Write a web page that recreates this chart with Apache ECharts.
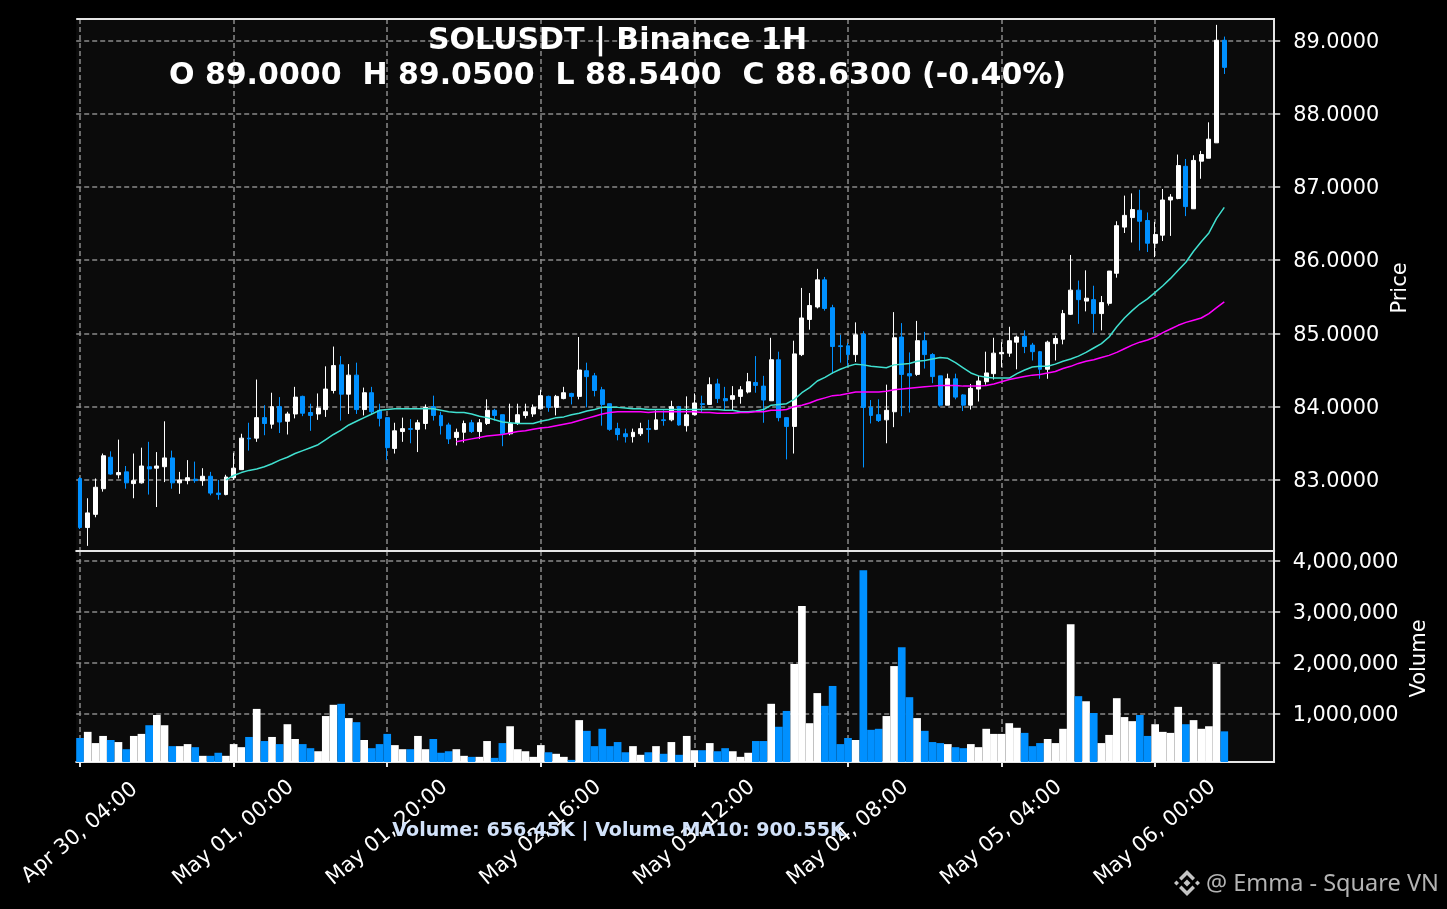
<!DOCTYPE html>
<html><head><meta charset="utf-8">
<style>html,body{margin:0;padding:0;background:#000}#c{width:1447px;height:909px}</style>
<script src="https://cdn.jsdelivr.net/npm/echarts@6/dist/echarts.min.js"></script>
</head><body><div id="c"></div>
<script>
const opens=[83.02,82.35,82.53,82.88,83.31,83.07,83.11,82.95,82.96,83.18,83.16,83.18,83.30,82.96,82.99,83.01,82.99,83.05,82.82,82.80,
83.03,83.14,83.57,83.57,83.85,83.76,84.00,83.80,83.90,84.14,83.92,83.90,83.96,84.22,84.57,84.17,84.43,83.96,84.19,83.95,
83.85,83.43,83.66,83.70,83.69,83.77,84.00,83.88,83.75,83.58,83.65,83.78,83.66,83.77,83.95,83.89,83.63,83.77,83.88,83.90,
83.97,84.14,83.99,84.11,84.18,84.14,84.49,84.42,84.23,84.04,83.70,83.63,83.59,83.63,83.70,83.69,83.82,83.82,84.00,83.74,
83.89,84.04,84.03,84.31,84.11,84.10,84.14,84.20,84.33,84.28,84.08,84.64,83.85,83.73,84.71,85.19,85.36,85.73,85.35,84.83,
84.83,84.71,84.99,83.99,83.89,83.82,83.93,84.95,84.45,84.44,84.90,84.71,84.42,84.02,84.38,84.16,84.02,84.24,84.34,84.45,
84.72,84.73,84.88,84.96,84.84,84.75,84.51,84.86,84.92,85.26,85.59,85.44,85.46,85.27,85.41,85.82,86.45,86.58,86.68,86.54,
86.23,86.34,86.82,86.84,87.28,86.70,87.35,87.39,87.60,89.00];
const closes=[82.35,82.55,82.90,83.33,83.08,83.10,82.96,82.99,83.19,83.15,83.19,83.30,82.96,83.00,83.03,82.99,83.05,82.82,82.80,83.04,
83.16,83.57,83.56,83.85,83.77,84.00,83.79,83.90,84.13,83.91,83.88,83.98,84.24,84.56,84.17,84.43,83.96,84.19,83.93,83.84,
83.44,83.67,83.70,83.69,83.78,83.99,83.88,83.74,83.56,83.65,83.77,83.66,83.78,83.95,83.88,83.63,83.77,83.89,83.93,83.99,
84.15,83.99,84.14,84.19,84.14,84.50,84.41,84.22,84.03,83.69,83.62,83.59,83.65,83.70,83.69,83.82,83.81,84.00,83.75,83.89,
84.05,84.03,84.30,84.11,84.08,84.15,84.23,84.34,84.29,84.09,84.64,83.85,83.73,84.72,85.21,85.38,85.73,85.34,84.82,84.82,
84.71,84.98,83.99,83.88,83.81,83.95,84.94,84.44,84.42,84.90,84.71,84.41,84.02,84.38,84.13,84.02,84.25,84.35,84.46,84.73,
84.74,84.90,84.95,84.82,84.75,84.51,84.88,84.93,85.27,85.59,85.46,85.48,85.27,85.42,85.85,86.47,86.61,86.69,86.53,86.23,
86.35,86.82,86.86,87.29,86.73,87.36,87.44,87.65,89.00,88.63];
const highs=[83.04,82.75,83.02,83.36,83.39,83.55,83.19,83.36,83.44,83.52,83.38,83.80,83.40,83.11,83.27,83.25,83.16,83.11,83.00,83.07,
83.37,83.63,83.78,84.37,84.02,84.19,84.13,83.93,84.27,84.15,84.04,84.18,84.55,84.82,84.69,84.58,84.60,84.26,84.27,84.04,
83.86,83.78,83.85,83.83,83.82,84.03,84.15,83.93,83.78,83.70,83.81,83.82,83.83,84.10,83.97,83.89,84.04,84.04,84.04,84.03,
84.23,84.15,84.16,84.27,84.19,84.95,84.60,84.46,84.27,84.04,83.78,83.70,83.70,83.78,83.82,83.95,83.95,84.08,84.01,84.14,
84.18,84.15,84.40,84.38,84.27,84.28,84.28,84.46,84.69,84.42,84.94,84.75,83.85,84.90,85.62,85.55,85.88,85.77,85.39,84.98,
84.87,85.15,85.03,84.09,84.10,84.30,85.29,85.14,84.74,85.17,85.02,84.73,84.42,84.45,84.45,84.17,84.31,84.42,84.75,84.94,
84.88,85.09,84.97,85.04,84.87,84.76,84.90,84.97,85.32,86.07,85.72,85.86,85.65,85.51,85.85,86.53,86.88,86.91,86.96,86.65,
86.52,86.97,86.90,87.44,87.38,87.43,87.49,87.88,89.21,89.05];
const lows=[82.33,82.10,82.49,82.84,83.07,83.02,82.88,82.75,82.95,82.80,82.63,82.97,82.88,82.81,82.94,82.96,82.92,82.79,82.73,82.79,
83.00,83.14,83.40,83.52,83.61,83.70,83.64,83.62,83.84,83.87,83.67,83.82,83.86,84.18,83.81,83.90,83.90,83.88,83.90,83.73,
83.27,83.36,83.52,83.50,83.38,83.69,83.81,83.62,83.49,83.47,83.51,83.64,83.56,83.75,83.81,83.46,83.61,83.75,83.84,83.86,
83.96,83.93,83.88,84.10,84.03,84.10,83.99,84.14,83.74,83.67,83.54,83.51,83.51,83.60,83.51,83.68,83.74,83.80,83.74,83.66,
83.88,83.92,84.03,84.05,83.95,83.95,84.04,84.18,84.19,83.78,84.08,83.80,83.28,83.36,84.69,85.05,85.34,85.31,84.45,84.60,
84.56,84.61,83.17,83.77,83.79,83.50,83.72,83.87,83.92,84.42,84.52,84.32,84.00,84.02,84.10,83.94,83.96,84.07,84.30,84.37,
84.54,84.68,84.51,84.73,84.63,84.38,84.38,84.63,84.85,85.25,85.13,85.30,85.01,85.04,85.38,85.76,86.37,86.24,86.13,86.11,
86.04,86.26,86.33,86.83,86.60,86.70,87.11,87.39,87.60,88.54];
const volumeMillions=[0.53,0.65,0.43,0.57,0.49,0.45,0.31,0.57,0.61,0.78,0.98,0.78,0.37,0.37,0.41,0.35,0.18,0.18,0.24,0.18,
0.41,0.35,0.55,1.10,0.47,0.55,0.41,0.80,0.51,0.41,0.33,0.27,0.96,1.18,1.20,0.92,0.84,0.49,0.33,0.41,
0.61,0.39,0.31,0.31,0.57,0.31,0.51,0.24,0.27,0.31,0.18,0.16,0.16,0.47,0.14,0.43,0.76,0.31,0.27,0.16,
0.39,0.25,0.22,0.16,0.10,0.88,0.67,0.37,0.71,0.37,0.45,0.25,0.37,0.20,0.25,0.37,0.22,0.45,0.20,0.57,
0.29,0.29,0.43,0.27,0.33,0.27,0.16,0.24,0.47,0.47,1.20,0.75,1.06,1.98,3.12,0.82,1.41,1.16,1.55,0.41,
0.53,0.49,3.82,0.69,0.71,0.96,1.94,2.31,1.33,0.92,0.67,0.45,0.43,0.41,0.35,0.33,0.41,0.35,0.71,0.61,
0.61,0.82,0.73,0.63,0.37,0.43,0.51,0.43,0.71,2.76,1.35,1.25,1.02,0.43,0.59,1.31,0.94,0.86,0.98,0.57,
0.80,0.65,0.63,1.14,0.80,0.88,0.71,0.76,1.98,0.66];
const ma20Values=[83.00,83.06,83.10,83.13,83.15,83.18,83.22,83.27,83.31,83.36,83.40,83.44,83.48,83.55,83.62,83.68,83.75,83.80,83.85,
83.90,83.95,83.96,83.97,83.97,83.97,83.97,83.97,83.97,83.95,83.93,83.92,83.92,83.90,83.87,83.85,83.82,83.79,83.78,83.77,83.77,
83.77,83.80,83.82,83.85,83.86,83.89,83.91,83.94,83.96,83.99,83.99,83.99,83.98,83.97,83.97,83.96,83.96,83.96,83.96,83.96,83.96,
83.96,83.96,83.96,83.96,83.95,83.95,83.93,83.93,83.94,83.96,84.02,84.03,84.04,84.10,84.19,84.26,84.35,84.40,84.46,84.51,84.55,84.58,
84.57,84.55,84.54,84.53,84.57,84.58,84.59,84.62,84.63,84.65,84.67,84.66,84.60,84.53,84.46,84.42,84.40,84.39,84.39,84.39,84.45,
84.50,84.54,84.55,84.55,84.58,84.62,84.65,84.69,84.74,84.80,84.86,84.95,85.09,85.21,85.31,85.40,85.47,85.56,85.65,85.75,85.86,
85.97,86.12,86.25,86.37,86.57,86.72];
const ma50Values=[83.52,83.54,83.56,83.58,83.60,83.61,83.62,83.64,83.66,83.67,83.69,83.71,83.72,83.74,83.76,83.78,83.81,83.84,83.87,
83.90,83.92,83.93,83.93,83.93,83.93,83.92,83.93,83.93,83.93,83.93,83.93,83.93,83.92,83.92,83.91,83.91,83.91,83.92,83.92,83.93,
83.93,83.95,83.95,83.96,84.00,84.02,84.05,84.09,84.12,84.15,84.16,84.18,84.20,84.20,84.20,84.20,84.21,84.23,84.24,84.25,84.26,
84.27,84.28,84.29,84.29,84.29,84.28,84.28,84.28,84.29,84.31,84.34,84.37,84.39,84.41,84.43,84.44,84.46,84.48,84.52,84.55,84.59,
84.62,84.64,84.67,84.70,84.74,84.79,84.84,84.88,84.91,84.95,85.01,85.06,85.11,85.15,85.18,85.21,85.27,85.35,85.43];
const priceTicks=[83,84,85,86,87,88,89];
const volumeTicks=[1,2,3,4];
const timeLabels=[];
(function(){const M=['Jan','Feb','Mar','Apr','May'];const p=n=>String(n).padStart(2,'0');
  for(let i=0;i<156;i++){const d=new Date(Date.UTC(2026,3,30,4+i));
    timeLabels.push(M[d.getUTCMonth()]+' '+p(d.getUTCDate())+', '+p(d.getUTCHours())+':00');}})();
const titleText='SOLUSDT | Binance 1H\nO 89.0000  H 89.0500  L 88.5400  C 88.6300 (-0.40%)';
const volumeText='Volume: 656.45K | Volume MA10: 900.55K';
const watermark='@ Emma - Square VN';

const UP='#ffffff',DOWN='#0090ff',GRID='#8a8a8a',SPINE='#e6e6e6',FF='"DejaVu Sans"',LOGO='#c4c4c4';
const candles=opens.map((o,i)=>[o,closes[i],lows[i],highs[i]]);
const vols=volumeMillions.map((v,i)=>({value:v,itemStyle:{color:closes[i]>=opens[i]?UP:DOWN}}));
const pad=(n,arr)=>new Array(n).fill(null).concat(arr);
const split={show:true,alignWithLabel:true,interval:19,lineStyle:{color:GRID,type:[5,3],width:1.5}};
const ysplit={show:true,lineStyle:{color:GRID,type:[5,3],width:1.5}};
const logoParts=[
  [[0,-13],[8,-5],[5.5,-2.5],[0,-8],[-5.5,-2.5],[-8,-5]],
  [[0,13],[8,5],[5.5,2.5],[0,8],[-5.5,2.5],[-8,5]],
  [[-13,0],[-10.5,-2.5],[-8,0],[-10.5,2.5]],
  [[13,0],[10.5,-2.5],[8,0],[10.5,2.5]],
  [[0,-3.5],[3.5,0],[0,3.5],[-3.5,0]]
];
const chart=echarts.init(document.getElementById('c'),null,{renderer:'canvas'});
chart.setOption({
  animation:false,backgroundColor:'#000',
  title:[
    {text:titleText,left:617.5,top:24,padding:0,textAlign:'center',textStyle:{color:'#fff',fontFamily:FF,fontWeight:'bold',fontSize:30,lineHeight:35},z:20},
    {text:volumeText,left:618.5,top:822,padding:0,textAlign:'center',textStyle:{color:'#d2e2fa',fontFamily:FF,fontWeight:'bold',fontSize:19.1},z:20},
    {text:watermark,left:1206,top:872,padding:0,textStyle:{color:'#b4b4b4',fontFamily:'"Noto Sans"',fontWeight:'normal',fontSize:23.5},z:20}
  ],
  grid:[
    {left:76.2,width:1198,top:19,height:532,show:true,backgroundColor:'#0b0b0b',borderWidth:0},
    {left:76.2,width:1198,top:551,height:211,show:true,backgroundColor:'#0b0b0b',borderWidth:0}
  ],
  xAxis:[
    {type:'category',gridIndex:0,data:timeLabels,boundaryGap:true,axisLine:{show:true,onZero:false,lineStyle:{color:SPINE,width:2}},axisTick:{show:false,alignWithLabel:true,interval:19},axisLabel:{show:false},splitLine:split},
    {type:'category',gridIndex:1,data:timeLabels,boundaryGap:true,axisLine:{show:true,onZero:false,lineStyle:{color:SPINE,width:2}},
     axisTick:{show:true,alignWithLabel:true,interval:19,length:5,lineStyle:{color:SPINE,width:2}},
     axisLabel:{show:true,interval:19,rotate:40,align:'center',verticalAlign:'middle',margin:71,color:'#fff',fontFamily:FF,fontSize:21,hideOverlap:false},splitLine:split}
  ],
  yAxis:[
    {type:'value',gridIndex:0,position:'right',min:82.03,max:89.29,scale:true,name:'Price',nameLocation:'middle',nameRotate:90,nameGap:115,
     nameTextStyle:{color:'#fff',fontFamily:FF,fontSize:21,padding:[0,6,0,0]},
     axisLine:{show:true,lineStyle:{color:SPINE,width:2}},
     axisTick:{show:true,length:6,customValues:priceTicks,lineStyle:{color:SPINE,width:1.5}},
     axisLabel:{show:true,margin:19,color:'#fff',fontFamily:FF,fontSize:20.8,verticalAlign:'top',padding:[-8.5,0,0,0],customValues:priceTicks,formatter:v=>v.toFixed(4)},splitLine:ysplit},
    {type:'value',gridIndex:1,position:'right',min:0.059,max:4.196,scale:true,name:'Volume',nameLocation:'middle',nameRotate:90,nameGap:130,
     nameTextStyle:{color:'#fff',fontFamily:FF,fontSize:21,padding:[0,4,0,0]},
     axisLine:{show:true,lineStyle:{color:SPINE,width:2}},
     axisTick:{show:true,length:6,customValues:volumeTicks,lineStyle:{color:SPINE,width:1.5}},
     axisLabel:{show:true,margin:18.5,color:'#fff',fontFamily:FF,fontSize:20.8,verticalAlign:'top',padding:[-8.5,0,0,0],customValues:volumeTicks,formatter:v=>(v*1e6).toLocaleString('en-US')},splitLine:ysplit}
  ],
  series:[
    {type:'candlestick',name:'Price',xAxisIndex:0,yAxisIndex:0,data:candles,barWidth:4.4,
     itemStyle:{color:UP,color0:DOWN,borderColor:UP,borderColor0:DOWN,borderWidth:1},z:3},
    {type:'line',name:'MA20',xAxisIndex:0,yAxisIndex:0,data:pad(19,ma20Values),showSymbol:false,symbol:'none',lineStyle:{color:'#40e0d0',width:1.5},z:4},
    {type:'line',name:'MA50',xAxisIndex:0,yAxisIndex:0,data:pad(49,ma50Values),showSymbol:false,symbol:'none',lineStyle:{color:'#ff00ff',width:1.5},z:4},
    {type:'bar',name:'Volume',xAxisIndex:1,yAxisIndex:1,data:vols,barWidth:'100%',z:3}
  ],
  graphic:[
    {type:'line',z:30,silent:true,shape:{x1:76.2,y1:19,x2:1275,y2:19},style:{stroke:SPINE,lineWidth:2}},
    {type:'group',z:30,silent:true,x:1187,y:883,children:logoParts.map(pts=>({type:'polygon',shape:{points:pts},style:{fill:LOGO}}))}
  ]
});
</script></body></html>
